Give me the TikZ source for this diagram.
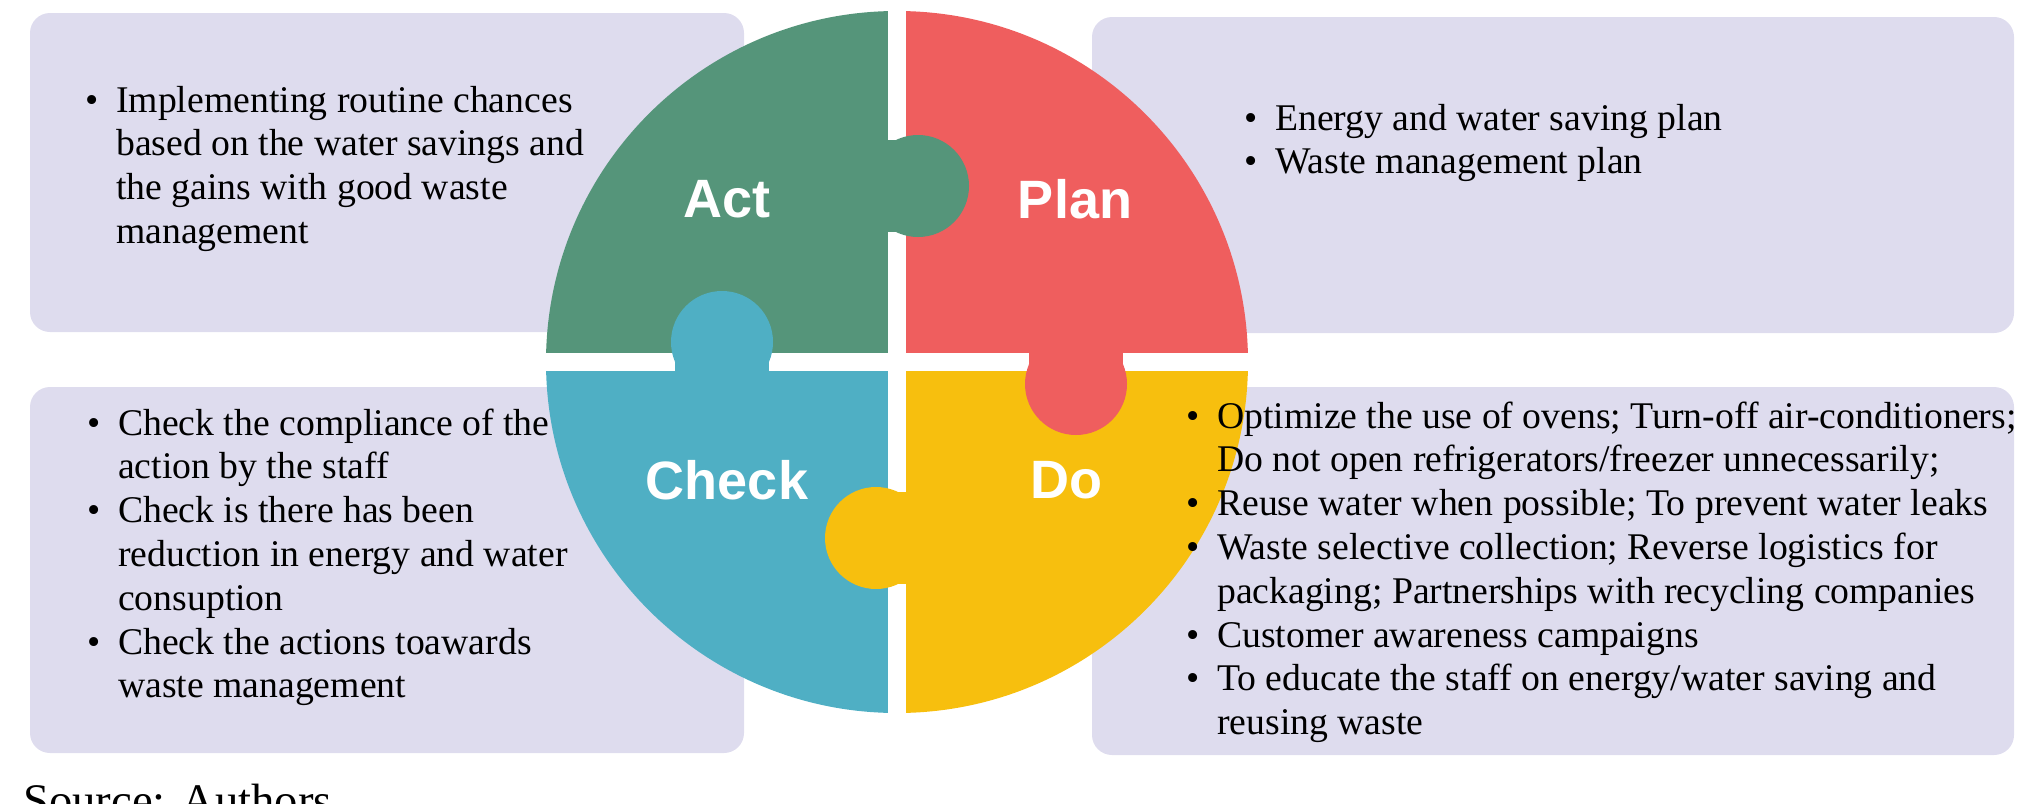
\documentclass[tikz,border=0pt]{standalone}
\usepackage{fontspec}
\setmainfont{Liberation Serif}
\newfontfamily\labelfont{Liberation Sans}

\definecolor{actgreen}{RGB}{85,149,122}
\definecolor{planred}{RGB}{239,94,94}
\definecolor{checkblue}{RGB}{79,175,196}
\definecolor{doyellow}{RGB}{247,191,14}
\definecolor{boxlav}{RGB}{222,220,238}

\newcommand{\bul}{\makebox[31pt][l]{\textbullet}}
\newcommand{\blist}[1]{\fontsize{37.7}{43.8}\selectfont\begin{tabular}[t]{@{}l@{}l@{}}#1\end{tabular}}

\begin{document}
\begin{tikzpicture}[x=1pt,y=-1pt,
    infobox/.style={fill=boxlav, rounded corners=20pt},
    listtext/.style={anchor=base west, inner sep=0pt},
    phase/.style={text=white, inner sep=0pt, font=\labelfont\bfseries\fontsize{54}{60}\selectfont}]
  \useasboundingbox (0,0) rectangle (2017,803);

  % the four text boxes
  \fill[infobox] (30,13) rectangle (744,332);
  \fill[infobox] (30,387) rectangle (744,753);
  \fill[infobox] (1092,17) rectangle (2014,333);
  \fill[infobox] (1092,387) rectangle (2014,755);

  % the puzzle circle
  \begin{scope}
    \clip (897,362) circle (351pt);
    \fill[actgreen] (540,5) rectangle (888,353);
    \fill[planred] (906,5) rectangle (1255,353);
    \fill[checkblue] (540,371) rectangle (888,720);
    \fill[doyellow] (906,371) rectangle (1255,720);

    % knobs
    \fill[actgreen] (918,186) circle (51pt);
    \fill[actgreen] (885,140) rectangle (910,232);
    \fill[planred] (1076,384) circle (51pt);
    \fill[planred] (1029,350) rectangle (1123,374);
    \fill[checkblue] (722,342) circle (51pt);
    \fill[checkblue] (675,350) rectangle (769,374);
    \fill[doyellow] (876,538) circle (51pt);
    \fill[doyellow] (884,492) rectangle (909,584);
  \end{scope}

  \node[phase] (act) at (727,199) {Act};
  \node[phase] (plan) at (1075,199) {Plan};
  \node[phase] (check) at (727,480) {Check};
  \node[phase] (do) at (1066,480) {Do};

  % lists
  \node[listtext] (actlist) at (85,112) {\blist{\bul & Implementing routine chances\\
    & based on the water savings and\\
    & the gains with good waste\\
    & management}};
  \node[listtext] (checklist) at (87,435) {\blist{\bul & Check the compliance of the\\
    & action by the staff\\
    \bul & Check is there has been\\
    & reduction in energy and water\\
    & consuption\\
    \bul & Check the actions toawards\\
    & waste management}};
  \node[listtext] (planlist) at (1244,130) {\blist{\bul & Energy and water saving plan\\
    \bul & Waste management plan}};
  \node[listtext] (dolist) at (1186,428) {\blist{\bul & Optimize the use of ovens; Turn-off air-conditioners;\\
    & Do not open refrigerators/freezer unnecessarily;\\
    \bul & Reuse water when possible; To prevent water leaks\\
    \bul & Waste selective collection; Reverse logistics for\\
    & packaging; Partnerships with recycling companies\\
    \bul & Customer awareness campaigns\\
    \bul & To educate the staff on energy/water saving and\\
    & reusing waste}};

  \node[anchor=base west, inner sep=0pt, font=\fontsize{46.7}{50}\selectfont] (source) at (23,816) {Source: Authors};
\end{tikzpicture}
\end{document}
